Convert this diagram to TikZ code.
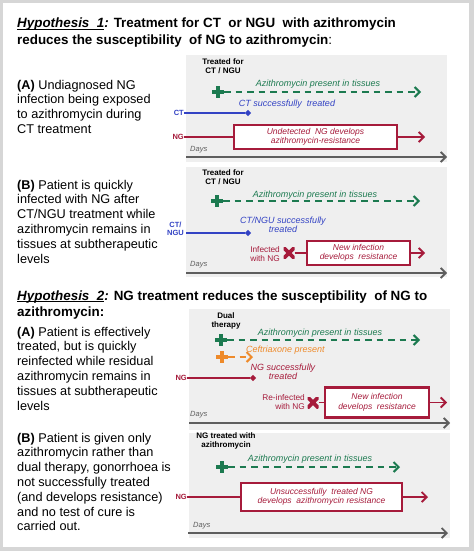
\documentclass[tikz,border=0pt]{standalone}
\usepackage{fontspec}
\setmainfont{Liberation Sans}
\usetikzlibrary{arrows.meta,shapes.geometric}
\definecolor{pgreen}{HTML}{1C7A50}
\definecolor{pblue}{HTML}{3343C4}
\definecolor{pred}{HTML}{A61B3B}
\definecolor{porange}{HTML}{EE8A2A}
\definecolor{paxis}{HTML}{5E5E5E}
\definecolor{ppanel}{HTML}{EFEFEF}
\definecolor{pframe}{HTML}{D6D6D6}
\newcommand{\mylines}[1]{\begin{tabular}[t]{@{}l@{}}#1\end{tabular}}
\newsavebox{\hypbox}
\newcommand{\hypul}[1]{\leavevmode\sbox{\hypbox}{#1}\rlap{\rule[-1.8pt]{\wd\hypbox}{0.9pt}}\usebox{\hypbox}}
\tikzset{
  heading/.style={anchor=base west, inner sep=0, font=\fontsize{13.4}{16}\selectfont\bfseries},
  bodytext/.style={anchor=base west, inner sep=0, font=\fontsize{12.7}{14.8}\selectfont},
  panel/.style={fill=ppanel, draw=none},
  toplbl/.style={inner sep=0, align=center, font=\fontsize{8}{9}\selectfont\bfseries},
  itl/.style={inner sep=0, align=center, font=\fontsize{9}{9}\selectfont\itshape},
  rlbl/.style={inner sep=0, align=right, text=pred, font=\fontsize{8.3}{8.5}\selectfont},
  sidelbl/.style={inner sep=0, align=center, font=\fontsize{7.5}{8.5}\selectfont\bfseries},
  evbox/.style={draw=pred, line width=2.4pt, fill=white, text=pred, inner sep=0,
    align=center, font=\fontsize{8.5}{9.5}\selectfont\itshape},
  plusmark/.style={minimum size=12pt, inner sep=0, path picture={
    \draw[line width=3.4pt] (path picture bounding box.north) -- (path picture bounding box.south)
      (path picture bounding box.west) -- (path picture bounding box.east);}},
  xmark/.style={minimum size=11pt, inner sep=0, path picture={
    \draw[line width=3.8pt] (path picture bounding box.north west) -- (path picture bounding box.south east)
      (path picture bounding box.south west) -- (path picture bounding box.north east);}},
  endmark/.style={diamond, inner sep=0, minimum size=6.5pt},
  dasharr/.style={draw=pgreen, line width=2.2pt, dash pattern=on 6.5pt off 5pt,
    -{Straight Barb[length=5pt,width=10pt,line width=2pt]}},
  solarr/.style={line width=1.7pt, -{Straight Barb[length=5pt,width=10pt,line width=1.8pt]}},
  timeline/.style={line width=1.4pt},
  axisarr/.style={draw=paxis, line width=1.8pt, -{Straight Barb[length=5pt,width=10pt,line width=1.8pt]}},
  dayslbl/.style={anchor=west, inner sep=0, text=paxis, font=\fontsize{7.5}{8}\selectfont\itshape},
}
\begin{document}
\begin{tikzpicture}[x=1pt,y=-1pt]
\useasboundingbox (0,0) rectangle (474,551);
\fill[pframe] (0,0) rectangle (474,551);
\fill[white] (3,3) rectangle (469,547);

% ---------- Headings and left texts ----------
\node[heading] (h1a) at (17,28) {\textit{\hypul{Hypothesis\ \ 1}:} Treatment for CT\ \ or NGU\ \ with azithromycin};
\node[heading] (h1b) at (17,45) {reduces the susceptibility\ \ of NG to azithromycin\textmd{:}};
\node[bodytext] (t1a) at (17,89) {\mylines{\textbf{(A)} Undiagnosed NG\\infection being exposed\\to azithromycin during\\CT treatment}};
\node[bodytext] (t1b) at (17,189) {\mylines{\textbf{(B)} Patient is quickly\\infected with NG after\\CT/NGU treatment while\\azithromycin remains in\\tissues at subtherapeutic\\levels}};
\node[heading] (h2a) at (17,300) {\textit{\hypul{Hypothesis\ \ 2}:} NG treatment reduces the susceptibility\ \ of NG to};
\node[heading] (h2b) at (17,316) {azithromycin:};
\node[bodytext] (t2a) at (17,336) {\mylines{\textbf{(A)} Patient is effectively\\treated, but is quickly\\reinfected while residual\\azithromycin remains in\\tissues at subtherapeutic\\levels}};
\node[bodytext] (t2b) at (17,442) {\mylines{\textbf{(B)} Patient is given only\\azithromycin rather than\\dual therapy,\ gonorrhoea is\\not successfully treated\\(and develops resistance)\\and no test of cure is\\carried out.}};

% ---------- Panel 1 ----------
\fill[panel] (186,55) rectangle (447,162);
\node[toplbl] (tr1) at (223,66) {Treated for\\CT / NGU};
\node[plusmark, pgreen] (g1) at (218,92) {};
\coordinate (ga1) at (421,92);
\draw[dasharr] (g1.east) -- (ga1);
\node[itl, text=pgreen] (az1) at (318,84) {Azithromycin present in tissues};
\node[sidelbl, text=pblue, anchor=east] (ct1) at (184,113) {CT};
\node[endmark, fill=pblue] (d1) at (248,113) {};
\draw[timeline, pblue] (ct1.east) -- (d1);
\node[itl, text=pblue] (ctt1) at (287,104) {CT successfully\ \ treated};
\node[sidelbl, text=pred, anchor=east] (ng1) at (184,137) {NG};
\node[evbox, minimum width=163pt, minimum height=24pt] (b1) at (315.5,137) {Undetected\ \ NG develops\\azithromycin-resistance};
\draw[timeline, pred, line width=1.6pt] (ng1.east) -- (b1.west);
\coordinate (ba1) at (425,137);
\draw[solarr, pred] (b1.east) -- (ba1);
\node[dayslbl] (days1) at (190,150) {Days};
\coordinate (ax1s) at (186,157);
\coordinate (ax1e) at (447,157);
\draw[axisarr] (ax1s) -- (ax1e);

% ---------- Panel 2 ----------
\fill[panel] (186,167) rectangle (447,277);
\node[toplbl] (tr2) at (223,177) {Treated for\\CT / NGU};
\node[plusmark, pgreen] (g2) at (217,201) {};
\coordinate (ga2) at (420,201);
\draw[dasharr] (g2.east) -- (ga2);
\node[itl, text=pgreen] (az2) at (315,195) {Azithromycin present in tissues};
\node[sidelbl, text=pblue, anchor=east] (ct2) at (184,229) {CT/\\NGU};
\node[endmark, fill=pblue] (d2) at (248,233) {};
\coordinate (ct2s) at (186,233);
\draw[timeline, pblue] (ct2s) -- (d2);
\node[itl, text=pblue] (ctt2) at (283,225) {CT/NGU successfully\\treated};
\node[rlbl, anchor=east] (inf2) at (280,254) {Infected\\with NG};
\node[xmark, pred] (x2) at (289,253) {};
\node[evbox, minimum width=103pt, minimum height=24pt] (b2) at (358.5,253) {New infection\\develops\ \ resistance};
\draw[timeline, pred, line width=1.6pt] (x2.east) -- (b2.west);
\coordinate (ba2) at (425,253);
\draw[solarr, pred] (b2.east) -- (ba2);
\node[dayslbl] (days2) at (190,265) {Days};
\coordinate (ax2s) at (186,273);
\coordinate (ax2e) at (447,273);
\draw[axisarr] (ax2s) -- (ax2e);

% ---------- Panel 3 ----------
\fill[panel] (189,309) rectangle (450,430);
\node[toplbl] (dual) at (226,321) {Dual\\therapy};
\node[plusmark, pgreen] (g3) at (221,340) {};
\coordinate (ga3) at (420,340);
\draw[dasharr] (g3.east) -- (ga3);
\node[itl, text=pgreen] (az3) at (320,333) {Azithromycin present in tissues};
\node[plusmark, porange] (o3) at (222,357) {};
\coordinate (oa3) at (253,357);
\draw[draw=porange, line width=2.2pt, dash pattern=on 6.5pt off 5pt, -{Straight Barb[length=5pt,width=10pt,line width=2pt]}] (o3.east) -- (oa3);
\node[itl, text=porange, anchor=west] (cef) at (246,350) {Ceftriaxone present};
\node[sidelbl, text=pred, anchor=east] (ng3) at (187,378) {NG};
\node[endmark, fill=pred] (d3) at (253,378) {};
\draw[timeline, pred, line width=1.6pt] (ng3.east) -- (d3);
\node[itl, text=pred] (ngt3) at (283,372) {NG successfully\\treated};
\node[rlbl, anchor=east] (reinf) at (305,402) {Re-infected\\with NG};
\node[xmark, pred] (x3) at (313,402.5) {};
\node[evbox, minimum width=104pt, minimum height=30pt] (b3) at (377,402.5) {New infection\\develops\ \ resistance};
\draw[timeline, pred, line width=1.6pt] (x3.east) -- (b3.west);
\coordinate (ba3) at (447,402.5);
\draw[solarr, pred] (b3.east) -- (ba3);
\node[dayslbl] (days3) at (190,415) {Days};
\coordinate (ax3s) at (189,423);
\coordinate (ax3e) at (450,423);
\draw[axisarr] (ax3s) -- (ax3e);

% ---------- Panel 4 ----------
\fill[panel] (189,433) rectangle (450,538);
\node[toplbl] (nt4) at (226,440.5) {NG treated with\\azithromycin};
\node[plusmark, pgreen] (g4) at (222,467) {};
\coordinate (ga4) at (400,467);
\draw[dasharr] (g4.east) -- (ga4);
\node[itl, text=pgreen] (az4) at (310,459) {Azithromycin present in tissues};
\node[sidelbl, text=pred, anchor=east] (ng4) at (187,497) {NG};
\node[evbox, minimum width=161pt, minimum height=28pt] (b4) at (321.5,497) {Unsuccessfully\ \ treated NG\\develops\ \ azithromycin resistance};
\draw[timeline, pred, line width=1.6pt] (ng4.east) -- (b4.west);
\coordinate (ba4) at (428,497);
\draw[solarr, pred] (b4.east) -- (ba4);
\node[dayslbl] (days4) at (193,526) {Days};
\coordinate (ax4s) at (188,533);
\coordinate (ax4e) at (448,533);
\draw[axisarr] (ax4s) -- (ax4e);
\end{tikzpicture}
\end{document}
